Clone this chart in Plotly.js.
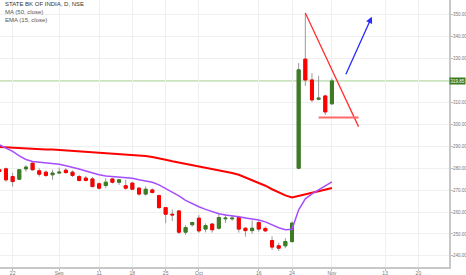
<!DOCTYPE html>
<html>
<head>
<meta charset="utf-8">
<script src="https://cdn.plot.ly/plotly-3.0.1.min.js"></script>
<style>html,body{margin:0;padding:0;background:#fff;}#chart{width:466px;height:275px;}</style>
</head>
<body>
<div id="chart"></div>
<script>
// Bar index (trading sessions), one per candle
const bars = [0,1,2,3,4,5,6,7,8,9,10,11,12,13,14,15,16,17,18,19,20,21,22,23,24,25,26,27,28,29,30,31,32,33,34,35,36,37,38,39,40,41,42,43,44,45,46,47,48,49,50];
const openP  = [279.3,279.7,276.2,275.0,279.7,282.3,278.8,278.2,277.0,277.8,279.1,278.2,276.2,275.5,275.1,272.9,272.1,275.1,273.6,272.0,273.2,270.9,268.2,270.1,267.5,262.0,259.0,260.5,250.8,254.2,257.2,252.2,254.5,252.6,256.9,256.9,257.5,252.6,251.5,255.2,252.5,247.0,244.6,244.6,246.5,280.0,329.8,320.3,311.5,313.0,309.4];
const highP  = [280.0,280.3,277.9,279.6,281.4,282.7,280.0,279.0,279.3,280.3,280.0,279.0,277.0,276.5,276.0,273.5,275.5,275.6,275.1,274.7,273.8,271.3,271.7,270.8,268.0,262.3,261.1,260.8,254.0,255.6,258.6,254.8,255.0,259.0,259.1,258.6,258.3,253.0,256.2,256.0,253.3,248.9,246.0,248.0,255.7,328.0,350.9,323.4,322.2,313.5,321.1];
const lowP   = [278.0,273.9,271.6,274.6,278.4,279.0,276.2,276.0,274.7,277.3,277.5,276.0,274.0,274.0,271.3,270.3,270.9,273.0,272.4,270.1,270.0,267.5,267.5,268.5,261.5,254.9,255.9,249.9,249.6,253.3,250.5,250.7,250.6,252.0,255.0,256.0,250.6,248.8,250.1,251.0,250.9,242.7,242.2,243.5,246.0,279.5,317.6,310.2,311.0,304.3,309.0];
const closeP = [278.5,274.7,273.9,279.3,280.5,279.3,277.3,276.7,277.8,278.2,278.0,276.7,274.4,274.4,271.6,270.9,273.6,273.6,274.7,270.9,270.4,268.2,270.4,268.9,262.0,259.0,258.7,250.8,252.9,255.2,251.4,253.8,251.9,257.5,257.2,257.2,252.2,251.5,252.6,252.2,251.4,244.0,243.5,246.5,254.9,324.9,320.3,311.2,312.0,305.7,319.85];
const ma50   = [289.7,289.5,289.3,289.2,289.0,288.9,288.8,288.6,288.5,288.3,288.2,288.0,287.8,287.6,287.4,287.2,287.0,286.9,286.7,286.5,286.3,286.0,285.6,285.1,284.6,283.9,283.2,282.6,282.0,281.4,280.8,280.3,279.8,279.3,278.6,277.8,277.0,275.8,274.7,273.4,272.0,270.4,268.9,267.6,266.7,267.3,268.1,268.8,269.5,270.2,271.0];
const ema15  = [290.7,289.1,287.7,285.6,284.0,283.1,282.8,282.5,282.3,281.8,281.1,280.5,279.6,278.7,277.7,277.0,276.4,276.1,275.8,275.6,275.4,274.7,274.2,273.6,272.4,270.8,269.2,267.4,265.3,263.7,262.4,261.2,260.1,259.2,258.6,258.3,257.8,257.3,256.9,256.4,255.5,254.2,252.8,251.9,252.1,261.0,266.0,268.3,270.1,272.0,273.8];

// Axis ticks
const xTickVals = [2,9,15,20,25,30,39,44,50,58,63];
const xTickText = ["22","Sep","11","18","25","Oct","16","24","Nov","13","20"];
const yTickVals = [240,250,260,270,280,290,300,310,330,340,350];
const yTickText = ["240.00","250.00","260.00","270.00","280.00","290.00","300.00","310.00","330.00","340.00","350.00"];
const lastPrice = 319.85;

// Drawing tools on the chart
const trendX = [46,54], trendY = [350.9,299.0];
const supportX = [48,54], supportY = [303.1,303.1];
const arrowX = [52,56], arrowY = [322.2,349.2];

const upC = '#3b7d23', downC = '#ff0000', wickC = '#9a9a9a';
const bodyHigh = openP.map((o,i)=>Math.max(o,closeP[i]));
const bodyLow  = openP.map((o,i)=>Math.min(o,closeP[i]));

const traces = [
  {type:'candlestick', x:bars, open:openP, high:highP, low:lowP, close:closeP,
   increasing:{line:{color:wickC,width:1},fillcolor:upC},
   decreasing:{line:{color:wickC,width:1},fillcolor:downC}, hoverinfo:'skip'},
  {type:'candlestick', x:bars, open:openP, high:bodyHigh, low:bodyLow, close:closeP,
   increasing:{line:{color:upC,width:1},fillcolor:upC},
   decreasing:{line:{color:downC,width:1},fillcolor:downC}, hoverinfo:'skip'},
  {type:'scatter', mode:'lines', x:bars, y:ma50, line:{color:'#ff0000',width:2}, hoverinfo:'skip'},
  {type:'scatter', mode:'lines', x:bars, y:ema15, line:{color:'#a64dff',width:1.5}, hoverinfo:'skip'}
];

const fnt = 'Liberation Sans, Arial, sans-serif';
const layout = {
  width:466, height:275,
  margin:{l:0,r:17,t:0,b:8},
  paper_bgcolor:'#ffffff', plot_bgcolor:'#ffffff',
  showlegend:false,
  boxmode:'overlay', boxgap:0.35,
  font:{family:fnt, size:5, color:'#666'},
  xaxis:{range:[0.1,67.6], tickmode:'array', tickvals:xTickVals, ticktext:xTickText,
    tickfont:{size:5,color:'#777'}, ticklabelstandoff:-2, showgrid:true, gridcolor:'#efefef', gridwidth:1,
    showline:true, linecolor:'#c8c8c8', linewidth:2, ticks:'outside', ticklen:2, tickcolor:'#bbb',
    zeroline:false, rangeslider:{visible:false}, fixedrange:true},
  yaxis:{side:'right', range:[234.9,356.8], tickmode:'array', tickvals:yTickVals, ticktext:yTickText,
    tickfont:{size:4.5,color:'#777'}, ticklabelstandoff:-1, showgrid:true, gridcolor:'#efefef', gridwidth:1,
    showline:true, linecolor:'#c8c8c8', linewidth:2, ticks:'outside', ticklen:2, tickcolor:'#bbb',
    zeroline:false, fixedrange:true},
  shapes:[
    {type:'line', xref:'paper', x0:0, x1:1, yref:'y', y0:lastPrice, y1:lastPrice, line:{color:'#a5cf8f',width:1}, layer:'below'},
    {type:'line', xref:'x', yref:'y', x0:trendX[0], y0:trendY[0], x1:trendX[1], y1:trendY[1], line:{color:'#ff3030',width:1.3}},
    {type:'line', xref:'x', yref:'y', x0:supportX[0], y0:supportY[0], x1:supportX[1], y1:supportY[1], line:{color:'#ff6b6b',width:2}}
  ],
  annotations:[
    {xref:'paper', yref:'paper', x:0.006, y:0.985, xanchor:'left', yanchor:'middle', showarrow:false,
     text:'STATE BK OF INDIA, D, NSE', font:{size:6,color:'#333',family:fnt}},
    {xref:'paper', yref:'paper', x:0.006, y:0.955, xanchor:'left', yanchor:'middle', showarrow:false,
     text:'MA (50, close)', font:{size:6,color:'#555',family:fnt}},
    {xref:'paper', yref:'paper', x:0.006, y:0.925, xanchor:'left', yanchor:'middle', showarrow:false,
     text:'EMA (15, close)', font:{size:6,color:'#555',family:fnt}},
    {xref:'paper', yref:'y', x:1, y:lastPrice, xanchor:'left', yanchor:'middle', showarrow:false,
     text:lastPrice.toFixed(2), bgcolor:'#3b7d23', borderpad:0.5, font:{size:4.5,color:'#ffffff',family:fnt}},
    {xref:'x', yref:'y', x:arrowX[1], y:arrowY[1], axref:'x', ayref:'y', ax:arrowX[0], ay:arrowY[0],
     showarrow:true, arrowcolor:'#2a2aff', arrowwidth:1.3, arrowhead:2, arrowsize:1, text:''}
  ]
};
Plotly.newPlot('chart', traces, layout, {staticPlot:true, displayModeBar:false});
</script>
</body>
</html>
